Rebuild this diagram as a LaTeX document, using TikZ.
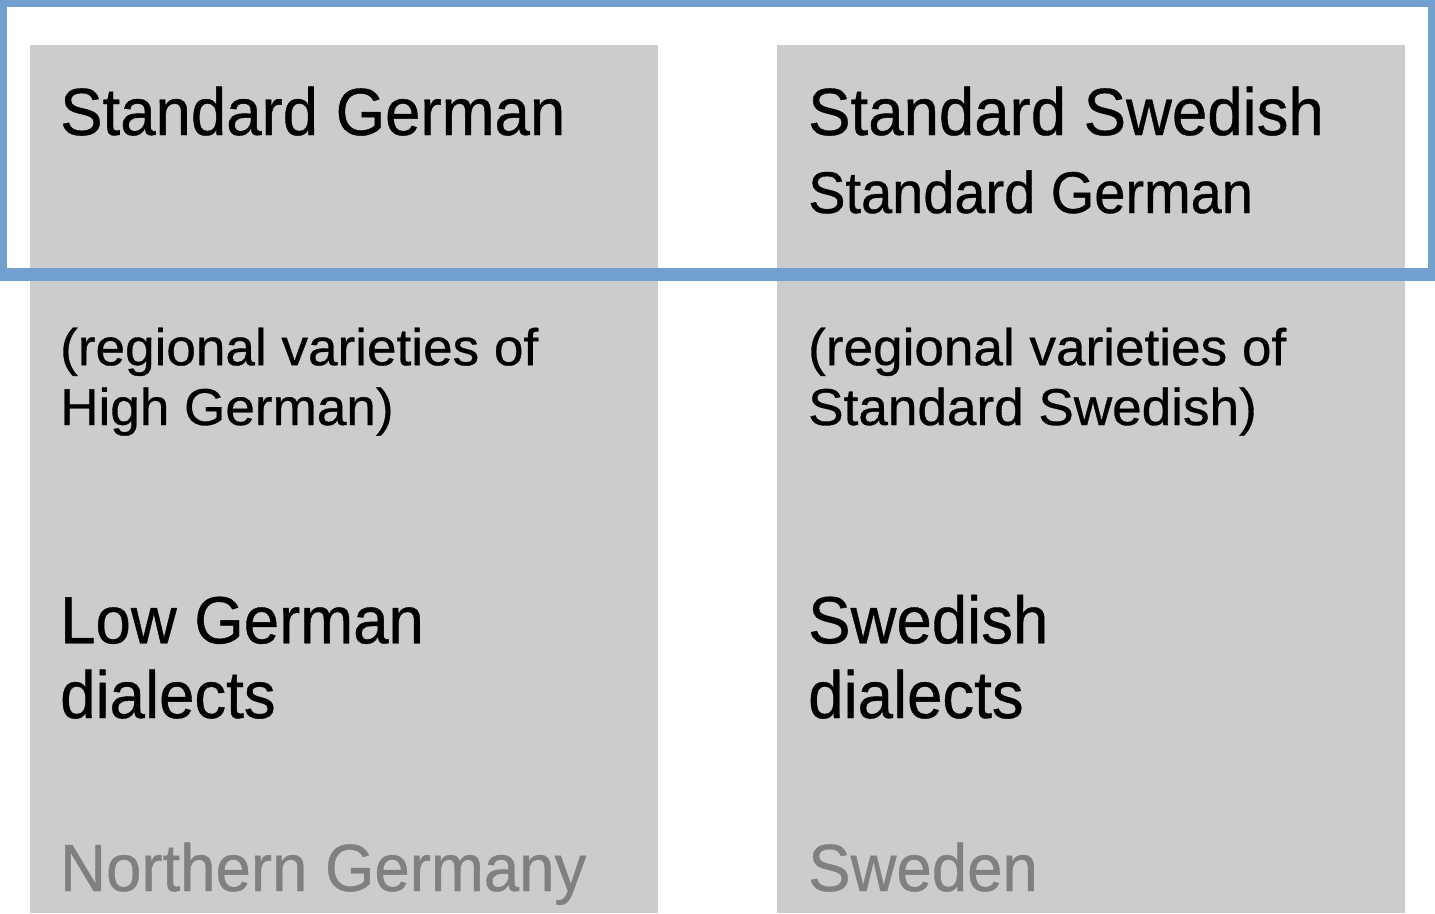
\documentclass[tikz,border=0pt]{standalone}
\usepackage{fontspec}
\setmainfont{Liberation Sans}
\newfontfamily\mainf[FakeStretch=0.952,FakeBold=0.6]{Liberation Sans}
\newfontfamily\smlf[FakeStretch=1.025,FakeBold=0.6]{Liberation Sans}
\definecolor{boxgray}{RGB}{204,204,204}
\definecolor{framblue}{RGB}{112,159,208}
\definecolor{txtgray}{RGB}{128,128,128}
\begin{document}
\begin{tikzpicture}[x=1bp,y=-1bp,
  col/.style={fill=boxgray,draw=none,anchor=north west,inner sep=0,outer sep=0,minimum width=628bp,minimum height=868bp},
  big/.style={anchor=base west,inner sep=0,align=left,font=\mainf\fontsize{67}{75}\selectfont},
  mid/.style={anchor=base west,inner sep=0,align=left,font=\mainf\fontsize{59}{70}\selectfont},
  sml/.style={anchor=base west,inner sep=0,align=left,font=\smlf\fontsize{52}{60}\selectfont},
  loc/.style={big,text=txtgray}]
\useasboundingbox (0,0) rectangle (1435,913);
\clip (0,0) rectangle (1435,913);
\node[col] (colL) at (30,45) {};
\node[col] (colR) at (777,45) {};
\node[big] (sgL) at (60,135) {Standard German};
\node[big] (ssR) at (808,135) {Standard Swedish};
\node[mid] (sgR) at (808,213) {Standard German};
\node[sml] (rvL) at (60,425) {(regional varieties of\\High German)};
\node[sml] (rvR) at (808,425) {(regional varieties of\\Standard Swedish)};
\node[big] (dL) at (60,718) {Low German\\dialects};
\node[big] (dR) at (808,718) {Swedish\\dialects};
\node[loc] (lL) at (60,891) {Northern Germany};
\node[loc] (lR) at (808,891) {Sweden};
\node[draw=framblue,line width=12.5bp,inner sep=0,outer sep=0,anchor=north west,minimum width=1433bp,minimum height=273.5bp] (frame) at (1,1) {};
\end{tikzpicture}
\end{document}
